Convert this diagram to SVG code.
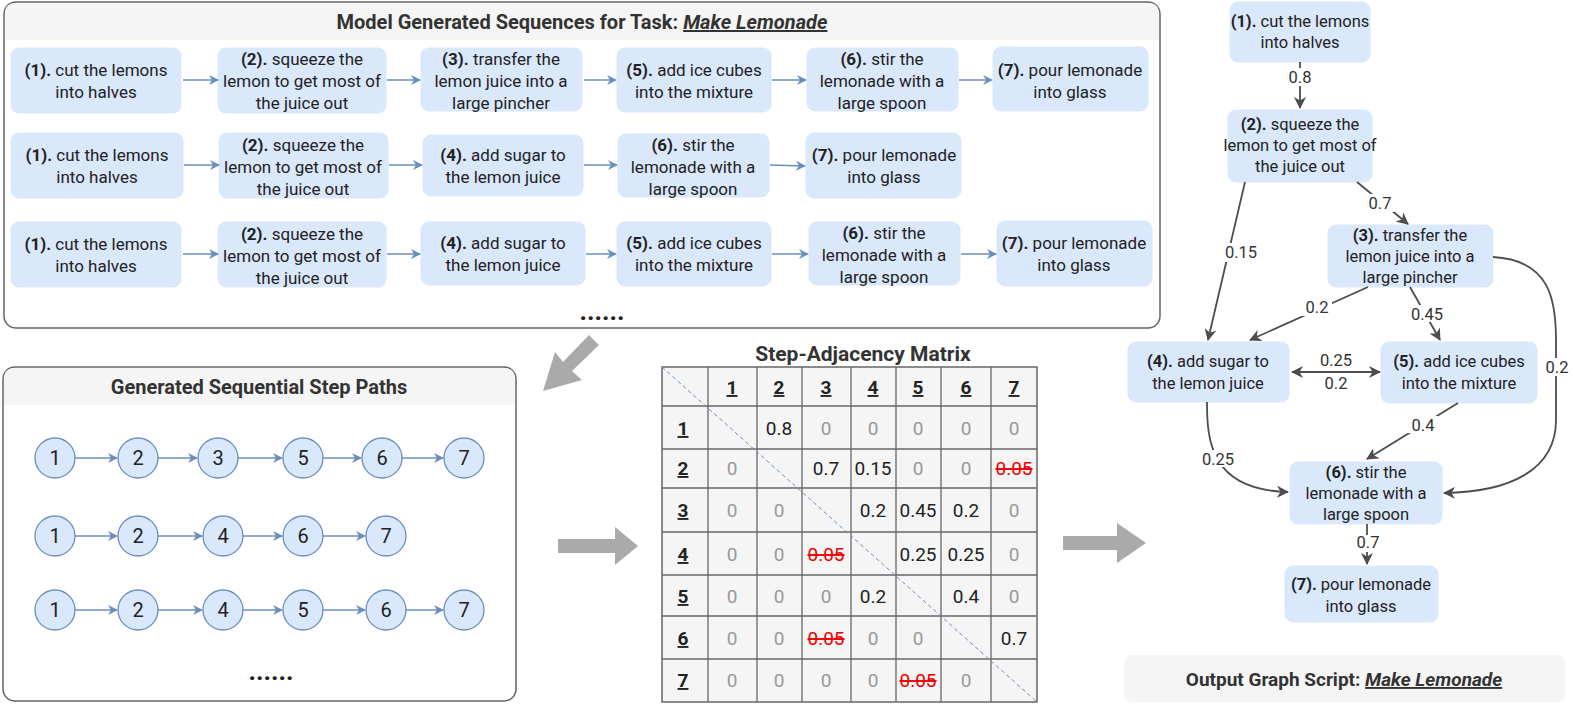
<svg xmlns="http://www.w3.org/2000/svg" width="1573" height="707" viewBox="0 0 1573 707">
<style>
text{font-family:Roboto,"Liberation Sans",sans-serif;fill:#222}
.n{fill:#dae8fc;stroke:#dae8fc}
.t{font-size:17px;text-anchor:middle}
.t2{font-size:16.5px;text-anchor:middle}
.b{font-weight:bold}
.h{font-size:20px;font-weight:bold;text-anchor:middle;fill:#333}
.sq line{stroke:#6c8ebf;stroke-width:1.5;marker-end:url(#ab)}
.c{fill:#dae8fc;stroke:#6c8ebf;stroke-width:1.3}
.ct{font-size:20px;text-anchor:middle}
.g path,.g line{stroke:#4d4d4d;stroke-width:1.8;fill:none;marker-end:url(#ad)}
.l{font-size:16.5px;text-anchor:middle;fill:#333}
.m{font-size:19px;text-anchor:middle}
.z{fill:#999}
.r{fill:#e00;text-decoration:line-through}
.k{font-weight:bold;text-decoration:underline}
</style>
<defs>
<marker id="ab" markerWidth="10" markerHeight="10" refX="9" refY="5" orient="auto" markerUnits="userSpaceOnUse"><path d="M0,0 L10,5 L0,10 L3,5 Z" fill="#6c8ebf"/></marker>
<marker id="ad" markerWidth="12" markerHeight="12" refX="11" refY="6" orient="auto" markerUnits="userSpaceOnUse"><path d="M0,0 L12,6 L0,12 L3.5,6 Z" fill="#4d4d4d"/></marker>
<marker id="ad2" markerWidth="12" markerHeight="12" refX="1" refY="6" orient="auto" markerUnits="userSpaceOnUse"><path d="M12,0 L0,6 L12,12 L8.5,6 Z" fill="#4d4d4d"/></marker>
</defs>
<rect width="1573" height="707" fill="#fff"/>

<g id="panel-top">
<rect x="4" y="2" width="1156" height="326" rx="12" fill="#fff" stroke="#666" stroke-width="1.5"/>
<path d="M5,40 V14 Q5,3 16,3 H1148 Q1159,3 1159,14 V40 Z" fill="#f5f5f5"/>
<text x="582" y="29" class="h">Model Generated Sequences for Task: <tspan font-style="italic" text-decoration="underline">Make Lemonade</tspan></text>
<text x="602" y="320" font-size="26" font-weight="bold" text-anchor="middle">......</text>
</g>

<g id="seq-nodes">
<rect class="n" x="11" y="48" width="170" height="65" rx="8"/><text class="t" x="96" y="76"><tspan class="b">(1).</tspan> cut the lemons<tspan x="96" dy="22">into halves</tspan></text>
<rect class="n" x="218" y="48" width="168" height="65" rx="8"/><text class="t" x="302" y="65"><tspan class="b">(2).</tspan> squeeze the<tspan x="302" dy="22">lemon to get most of</tspan><tspan x="302" dy="22">the juice out</tspan></text>
<rect class="n" x="421" y="48" width="161" height="63" rx="8"/><text class="t" x="501" y="65"><tspan class="b">(3).</tspan> transfer the<tspan x="501" dy="22">lemon juice into a</tspan><tspan x="501" dy="22">large pincher</tspan></text>
<rect class="n" x="617" y="48" width="154" height="64" rx="8"/><text class="t" x="694" y="76"><tspan class="b">(5).</tspan> add ice cubes<tspan x="694" dy="22">into the mixture</tspan></text>
<rect class="n" x="807" y="48" width="151" height="63" rx="8"/><text class="t" x="882" y="65"><tspan class="b">(6).</tspan> stir the<tspan x="882" dy="22">lemonade with a</tspan><tspan x="882" dy="22">large spoon</tspan></text>
<rect class="n" x="993" y="47" width="155" height="64" rx="8"/><text class="t" x="1070" y="76"><tspan class="b">(7).</tspan> pour lemonade<tspan x="1070" dy="22">into glass</tspan></text>

<rect class="n" x="11" y="133" width="172" height="65" rx="8"/><text class="t" x="97" y="161"><tspan class="b">(1).</tspan> cut the lemons<tspan x="97" dy="22">into halves</tspan></text>
<rect class="n" x="219" y="133" width="169" height="65" rx="8"/><text class="t" x="303" y="151"><tspan class="b">(2).</tspan> squeeze the<tspan x="303" dy="22">lemon to get most of</tspan><tspan x="303" dy="22">the juice out</tspan></text>
<rect class="n" x="423" y="135" width="160" height="61" rx="8"/><text class="t" x="503" y="161"><tspan class="b">(4).</tspan> add sugar to<tspan x="503" dy="22">the lemon juice</tspan></text>
<rect class="n" x="618" y="134" width="151" height="63" rx="8"/><text class="t" x="693" y="151"><tspan class="b">(6).</tspan> stir the<tspan x="693" dy="22">lemonade with a</tspan><tspan x="693" dy="22">large spoon</tspan></text>
<rect class="n" x="806" y="133" width="155" height="65" rx="8"/><text class="t" x="884" y="161"><tspan class="b">(7).</tspan> pour lemonade<tspan x="884" dy="22">into glass</tspan></text>

<rect class="n" x="11" y="222" width="170" height="65" rx="8"/><text class="t" x="96" y="250"><tspan class="b">(1).</tspan> cut the lemons<tspan x="96" dy="22">into halves</tspan></text>
<rect class="n" x="218" y="222" width="168" height="65" rx="8"/><text class="t" x="302" y="240"><tspan class="b">(2).</tspan> squeeze the<tspan x="302" dy="22">lemon to get most of</tspan><tspan x="302" dy="22">the juice out</tspan></text>
<rect class="n" x="421" y="222" width="164" height="63" rx="8"/><text class="t" x="503" y="249"><tspan class="b">(4).</tspan> add sugar to<tspan x="503" dy="22">the lemon juice</tspan></text>
<rect class="n" x="617" y="222" width="154" height="64" rx="8"/><text class="t" x="694" y="249"><tspan class="b">(5).</tspan> add ice cubes<tspan x="694" dy="22">into the mixture</tspan></text>
<rect class="n" x="809" y="222" width="151" height="63" rx="8"/><text class="t" x="884" y="239"><tspan class="b">(6).</tspan> stir the<tspan x="884" dy="22">lemonade with a</tspan><tspan x="884" dy="22">large spoon</tspan></text>
<rect class="n" x="997" y="221" width="155" height="65" rx="8"/><text class="t" x="1074" y="249"><tspan class="b">(7).</tspan> pour lemonade<tspan x="1074" dy="22">into glass</tspan></text>
</g>

<g id="seq-connectors" class="sq">
<line x1="183" y1="80" x2="218" y2="80"/><line x1="387" y1="80" x2="420" y2="80"/><line x1="584" y1="80" x2="616" y2="80"/><line x1="772" y1="80" x2="806" y2="80"/><line x1="959" y1="80" x2="992" y2="80"/>
<line x1="184" y1="165" x2="219" y2="165"/><line x1="389" y1="165" x2="422" y2="165"/><line x1="584" y1="165" x2="617" y2="165"/><line x1="770" y1="165" x2="805" y2="166"/>
<line x1="183" y1="254" x2="218" y2="254"/><line x1="387" y1="254" x2="420" y2="254"/><line x1="586" y1="254" x2="616" y2="254"/><line x1="772" y1="254" x2="808" y2="254"/><line x1="961" y1="254" x2="996" y2="254"/>
</g>

<g id="big-arrows" fill="#aaa">
<path d="M599,345 L589,335 L563,362 L555,352 L543,391 L582,380 L572,371 Z"/>
<path d="M558,539 H615 V527 L638,546 L615,565 V553 H558 Z"/>
<path d="M1063,536 H1117 V523 L1146,543 L1117,563 V550 H1063 Z"/>
</g>

<g id="panel-paths">
<rect x="3" y="367" width="513" height="334" rx="12" fill="#fff" stroke="#666" stroke-width="1.5"/>
<path d="M4,405 V379 Q4,368 15,368 H504 Q515,368 515,379 V405 Z" fill="#f5f5f5"/>
<text x="259" y="394" class="h">Generated Sequential Step Paths</text>
<text x="271" y="680" font-size="26" font-weight="bold" text-anchor="middle">......</text>
</g>
<g id="path-nodes">
<circle class="c" cx="55" cy="458" r="20"/><text class="ct" x="55" y="465">1</text>
<circle class="c" cx="138" cy="458" r="20"/><text class="ct" x="138" y="465">2</text>
<circle class="c" cx="218" cy="458" r="20"/><text class="ct" x="218" y="465">3</text>
<circle class="c" cx="303" cy="458" r="20"/><text class="ct" x="303" y="465">5</text>
<circle class="c" cx="382" cy="458" r="20"/><text class="ct" x="382" y="465">6</text>
<circle class="c" cx="464" cy="458" r="20"/><text class="ct" x="464" y="465">7</text>
<circle class="c" cx="55" cy="536" r="20"/><text class="ct" x="55" y="543">1</text>
<circle class="c" cx="138" cy="536" r="20"/><text class="ct" x="138" y="543">2</text>
<circle class="c" cx="223" cy="536" r="20"/><text class="ct" x="223" y="543">4</text>
<circle class="c" cx="303" cy="536" r="20"/><text class="ct" x="303" y="543">6</text>
<circle class="c" cx="386" cy="536" r="20"/><text class="ct" x="386" y="543">7</text>
<circle class="c" cx="55" cy="610" r="20"/><text class="ct" x="55" y="617">1</text>
<circle class="c" cx="138" cy="610" r="20"/><text class="ct" x="138" y="617">2</text>
<circle class="c" cx="223" cy="610" r="20"/><text class="ct" x="223" y="617">4</text>
<circle class="c" cx="303" cy="610" r="20"/><text class="ct" x="303" y="617">5</text>
<circle class="c" cx="386" cy="610" r="20"/><text class="ct" x="386" y="617">6</text>
<circle class="c" cx="464" cy="610" r="20"/><text class="ct" x="464" y="617">7</text>
</g>
<g id="path-connectors" class="sq">
<line x1="75" y1="458" x2="117" y2="458"/><line x1="158" y1="458" x2="197" y2="458"/><line x1="238" y1="458" x2="282" y2="458"/><line x1="323" y1="458" x2="361" y2="458"/><line x1="402" y1="458" x2="443" y2="458"/>
<line x1="75" y1="536" x2="117" y2="536"/><line x1="158" y1="536" x2="202" y2="536"/><line x1="243" y1="536" x2="282" y2="536"/><line x1="323" y1="536" x2="365" y2="536"/>
<line x1="75" y1="610" x2="117" y2="610"/><line x1="158" y1="610" x2="202" y2="610"/><line x1="243" y1="610" x2="282" y2="610"/><line x1="323" y1="610" x2="365" y2="610"/><line x1="406" y1="610" x2="443" y2="610"/>
</g>

<g id="matrix">
<text x="863" y="361" class="h" style="font-size:21px">Step-Adjacency Matrix</text>
<rect x="662" y="367" width="375" height="335" fill="#f5f5f5" stroke="#666" stroke-width="1.5"/>
<g stroke="#666" stroke-width="1.3">
<line x1="708" y1="367" x2="708" y2="702"/><line x1="757" y1="367" x2="757" y2="702"/><line x1="802" y1="367" x2="802" y2="702"/><line x1="851" y1="367" x2="851" y2="702"/><line x1="896" y1="367" x2="896" y2="702"/><line x1="941" y1="367" x2="941" y2="702"/><line x1="991" y1="367" x2="991" y2="702"/>
<line x1="662" y1="406" x2="1037" y2="406"/><line x1="662" y1="449" x2="1037" y2="449"/><line x1="662" y1="488" x2="1037" y2="488"/><line x1="662" y1="532" x2="1037" y2="532"/><line x1="662" y1="575" x2="1037" y2="575"/><line x1="662" y1="616" x2="1037" y2="616"/><line x1="662" y1="659" x2="1037" y2="659"/>
</g>
<line x1="662" y1="367" x2="1037" y2="702" stroke="#6c8ebf" stroke-width="1" stroke-dasharray="4,3"/>
<g class="m">
<text class="k" x="732" y="394">1</text><text class="k" x="779" y="394">2</text><text class="k" x="826" y="394">3</text><text class="k" x="873" y="394">4</text><text class="k" x="918" y="394">5</text><text class="k" x="966" y="394">6</text><text class="k" x="1014" y="394">7</text>
<text class="k" x="683" y="435">1</text><text class="k" x="683" y="475">2</text><text class="k" x="683" y="517">3</text><text class="k" x="683" y="561">4</text><text class="k" x="683" y="603">5</text><text class="k" x="683" y="645">6</text><text class="k" x="683" y="687">7</text>
<text x="779" y="435">0.8</text><text class="z" x="826" y="435">0</text><text class="z" x="873" y="435">0</text><text class="z" x="918" y="435">0</text><text class="z" x="966" y="435">0</text><text class="z" x="1014" y="435">0</text>
<text class="z" x="732" y="475">0</text><text x="826" y="475">0.7</text><text x="873" y="475">0.15</text><text class="z" x="918" y="475">0</text><text class="z" x="966" y="475">0</text><text class="r" x="1014" y="475">0.05</text>
<text class="z" x="732" y="517">0</text><text class="z" x="779" y="517">0</text><text x="873" y="517">0.2</text><text x="918" y="517">0.45</text><text x="966" y="517">0.2</text><text class="z" x="1014" y="517">0</text>
<text class="z" x="732" y="561">0</text><text class="z" x="779" y="561">0</text><text class="r" x="826" y="561">0.05</text><text x="918" y="561">0.25</text><text x="966" y="561">0.25</text><text class="z" x="1014" y="561">0</text>
<text class="z" x="732" y="603">0</text><text class="z" x="779" y="603">0</text><text class="z" x="826" y="603">0</text><text x="873" y="603">0.2</text><text x="966" y="603">0.4</text><text class="z" x="1014" y="603">0</text>
<text class="z" x="732" y="645">0</text><text class="z" x="779" y="645">0</text><text class="r" x="826" y="645">0.05</text><text class="z" x="873" y="645">0</text><text class="z" x="918" y="645">0</text><text x="1014" y="645">0.7</text>
<text class="z" x="732" y="687">0</text><text class="z" x="779" y="687">0</text><text class="z" x="826" y="687">0</text><text class="z" x="873" y="687">0</text><text class="r" x="918" y="687">0.05</text><text class="z" x="966" y="687">0</text>
</g>
</g>

<g id="g-n1"><rect class="n" x="1230" y="2" width="140" height="60" rx="8"/><text class="t2" x="1300" y="27"><tspan class="b">(1).</tspan> cut the lemons<tspan x="1300" dy="21">into halves</tspan></text></g>
<g id="g-n2"><rect class="n" x="1228" y="110" width="144" height="72" rx="8"/><text class="t2" x="1300" y="130"><tspan class="b">(2).</tspan> squeeze the<tspan x="1300" dy="21">lemon to get most of</tspan><tspan x="1300" dy="21">the juice out</tspan></text></g>
<g id="g-n3"><rect class="n" x="1328" y="225" width="165" height="62" rx="8"/><text class="t2" x="1410" y="241"><tspan class="b">(3).</tspan> transfer the<tspan x="1410" dy="21">lemon juice into a</tspan><tspan x="1410" dy="21">large pincher</tspan></text></g>
<g id="g-n4"><rect class="n" x="1128" y="342" width="161" height="60" rx="8"/><text class="t2" x="1208" y="367"><tspan class="b">(4).</tspan> add sugar to<tspan x="1208" dy="22">the lemon juice</tspan></text></g>
<g id="g-n5"><rect class="n" x="1381" y="342" width="156" height="61" rx="8"/><text class="t2" x="1459" y="367"><tspan class="b">(5).</tspan> add ice cubes<tspan x="1459" dy="22">into the mixture</tspan></text></g>
<g id="g-n6"><rect class="n" x="1290" y="462" width="152" height="62" rx="8"/><text class="t2" x="1366" y="478"><tspan class="b">(6).</tspan> stir the<tspan x="1366" dy="21">lemonade with a</tspan><tspan x="1366" dy="21">large spoon</tspan></text></g>
<g id="g-n7"><rect class="n" x="1285" y="566" width="153" height="56" rx="8"/><text class="t2" x="1361" y="590"><tspan class="b">(7).</tspan> pour lemonade<tspan x="1361" dy="22">into glass</tspan></text></g>

<g id="g-connectors" class="g">
<line x1="1300" y1="62" x2="1300" y2="108"/>
<line x1="1357" y1="182" x2="1408" y2="224"/>
<line x1="1245" y1="182" x2="1208" y2="340"/>
<line x1="1368" y1="287" x2="1250" y2="340"/>
<line x1="1410" y1="287" x2="1440" y2="340"/>
<line x1="1292" y1="372" x2="1380" y2="372" marker-start="url(#ad2)"/>
<path d="M1493,257 C1550,260 1556,300 1556,340 V420 C1556,470 1510,492 1444,493"/>
<path d="M1207,402 C1207,440 1210,490 1288,492"/>
<line x1="1458" y1="403" x2="1367" y2="459"/>
<line x1="1367" y1="524" x2="1367" y2="564"/>
</g>
<g id="g-labels">
<rect x="1286" y="68" width="28" height="18" fill="#fff"/><text class="l" x="1300" y="83">0.8</text>
<rect x="1366" y="194" width="28" height="18" fill="#fff"/><text class="l" x="1380" y="209">0.7</text>
<rect x="1222" y="243" width="38" height="19" fill="#fff"/><text class="l" x="1241" y="258">0.15</text>
<rect x="1302" y="299" width="30" height="17" fill="#fff"/><text class="l" x="1317" y="313">0.2</text>
<rect x="1409" y="305" width="36" height="17" fill="#fff"/><text class="l" x="1427" y="320">0.45</text>
<text class="l" x="1336" y="366">0.25</text><text class="l" x="1336" y="389">0.2</text>
<rect x="1543" y="358" width="28" height="18" fill="#fff"/><text class="l" x="1557" y="373">0.2</text>
<rect x="1200" y="450" width="36" height="17" fill="#fff"/><text class="l" x="1218" y="465">0.25</text>
<rect x="1408" y="416" width="30" height="17" fill="#fff"/><text class="l" x="1423" y="431">0.4</text>
<rect x="1354" y="535" width="28" height="17" fill="#fff"/><text class="l" x="1368" y="548">0.7</text>
</g>
<g id="output-title">
<rect x="1124" y="655" width="441" height="47" rx="8" fill="#f5f5f5"/>
<text x="1344" y="686" class="h" style="font-size:19px">Output Graph Script: <tspan font-style="italic" text-decoration="underline">Make Lemonade</tspan></text>
</g>
</svg>
